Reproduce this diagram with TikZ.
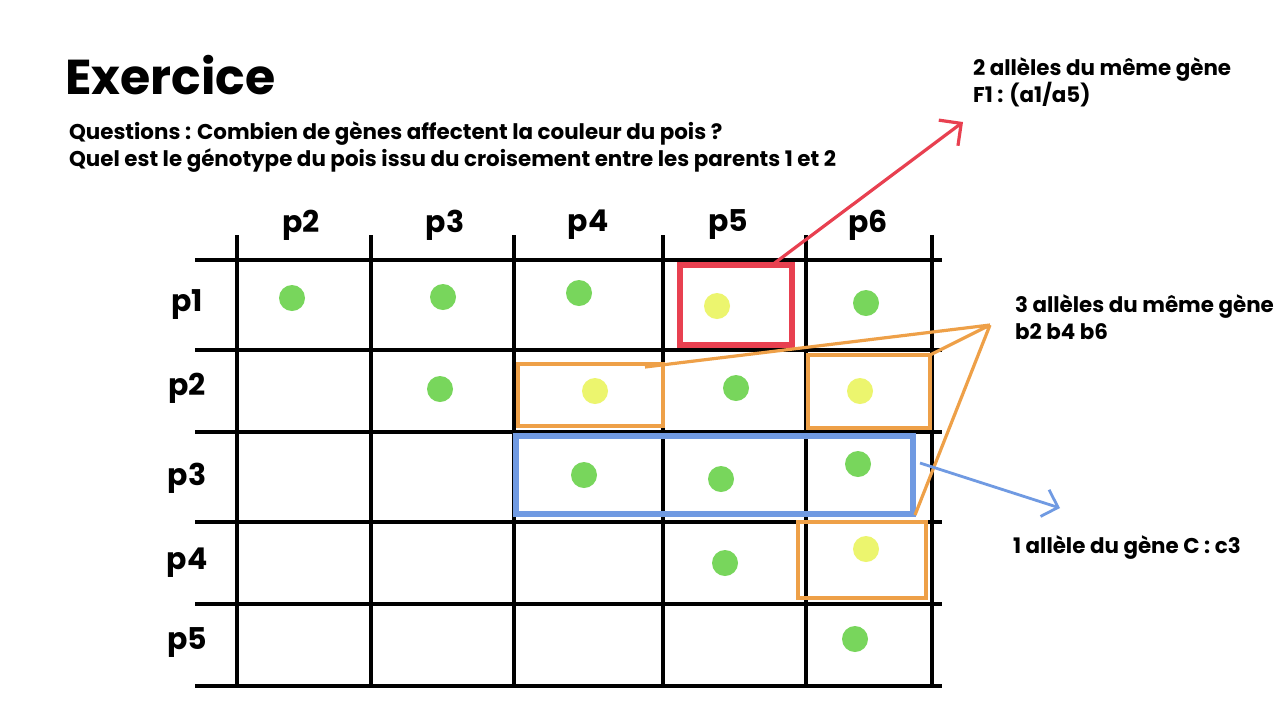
\documentclass[tikz,border=0pt]{standalone}
\usepackage{fontspec}
\usetikzlibrary{arrows.meta}
\setmainfont{Poppins}
\begin{document}
\begin{tikzpicture}[x=0.5pt,y=-0.5pt,
  grid/.style={line width=1.6pt,black},
  hdr/.style={font=\bfseries\fontsize{15}{18}\selectfont},
  note/.style={font=\bfseries\fontsize{10.7}{13.5}\selectfont,align=left,anchor=west}]
\useasboundingbox (0,0) rectangle (1280,720);
\fill[white] (0,0) rectangle (1280,720);
\definecolor{gd}{RGB}{120,214,92}
\definecolor{yd}{RGB}{236,245,110}
\definecolor{rd}{RGB}{232,64,80}
\definecolor{od}{RGB}{238,160,72}
\definecolor{bd}{RGB}{112,154,226}
\tikzset{gdot/.style={circle,fill=gd,minimum size=13pt,inner sep=0pt},ydot/.style={circle,fill=yd,minimum size=13pt,inner sep=0pt}}
\node[anchor=west,font=\bfseries\fontsize{24.5}{30}\selectfont] (t) at (58,75) {Exercice};
\node[note] (q) at (62,147) {Questions : Combien de gènes affectent la couleur du pois ?\\Quel est le génotype du pois issu du croisement entre les parents 1 et 2};
% grid
\foreach \x in {237,371,514,663,806,932} \draw[grid] (\x,235) -- (\x,688);
\foreach \y in {260,350,432,522,604,686} \draw[grid] (195,\y) -- (942,\y);
\foreach \t/\x in {p2/301,p3/445,p4/588,p5/728,p6/868} \node[hdr] (c\t) at (\x,225) {\t};
\foreach \t/\y in {p1/305,p2/388,p3/478,p4/563,p5/643} \node[hdr] (r\t) at (187,\y) {\t};
\foreach \p in {(292,298),(443,297),(579,293),(866,303),(440,389),(736,388),(584,475),(721,479),(858,464),(725,563),(855,639)} \node[gdot] at \p {};
\foreach \p in {(717,306),(595,391),(860,391),(866,549)} \node[ydot] at \p {};
% boxes
\draw[draw=rd,line width=2.6pt] (680,265) rectangle (792,345);
\draw[draw=od,line width=2.2pt] (518,364) rectangle (663,426);
\draw[draw=od,line width=2.2pt] (808,355) rectangle (930,428);
\draw[draw=od,line width=2.2pt] (798,522) rectangle (926,598);
\draw[draw=bd,line width=2.6pt] (516,436) rectangle (913,514);
% notes
\node[note] (n1) at (966,82) {2 allèles du même gène\\F1 : (a1/a5)};
\node[note] (n2) at (1008,317) {3 allèles du même gène\\b2 b4 b6};
\node[note] (n3) at (1006,548) {1 allèle du gène C : c3};
\coordinate (ra) at (772,265); \coordinate (rb) at (963,122);
\draw[rd,line width=1.6pt,-{Straight Barb[length=8pt]}] (ra) -- (rb);
\coordinate (oa) at (990,325);
\draw[od,line width=1.6pt] (645,367) -- (oa) (930,355) -- (oa) (915,515) -- (oa);
\coordinate (ba) at (920,463); \coordinate (bb) at (1060,508);
\draw[bd,line width=1.4pt,-{Straight Barb[length=7pt]}] (ba) -- (bb);
\end{tikzpicture}
\end{document}
